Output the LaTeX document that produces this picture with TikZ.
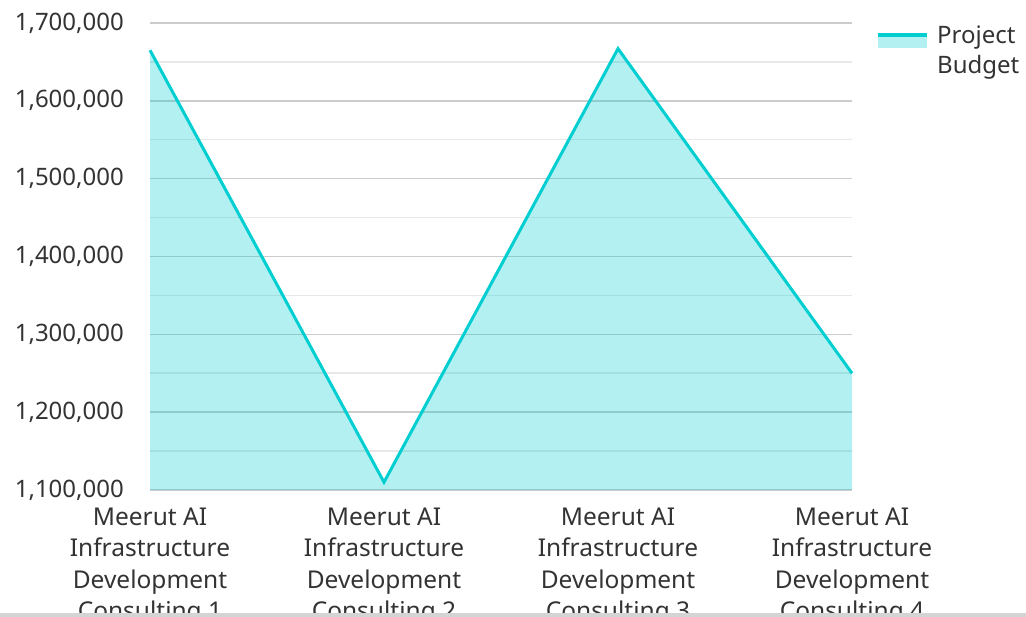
\documentclass[tikz,border=0pt]{standalone}
\usepackage{fontspec}
\setmainfont{Noto Sans}
\usetikzlibrary{positioning}
\definecolor{budgetline}{RGB}{0,206,209}
\definecolor{majorgrid}{RGB}{204,204,204}
\definecolor{minorgrid}{RGB}{232,232,232}
\definecolor{labeltext}{RGB}{51,51,51}
\definecolor{bottomrule}{RGB}{212,212,212}
\tikzset{
  ticklabel/.style={anchor=east, inner sep=0pt, text=labeltext, font=\fontsize{24}{28}\selectfont},
  catlabel/.style={anchor=north, inner sep=0pt, align=center, text=labeltext, font=\fontsize{24.5}{31.5}\selectfont},
  legendlabel/.style={anchor=north west, inner sep=0pt, align=left, text=labeltext, font=\fontsize{24}{30}\selectfont},
  gridline/.style={line width=1.5pt}
}

\begin{document}
\begin{tikzpicture}[x=1pt,y=-1pt]
    \useasboundingbox (0,0) rectangle (1026,617);
    % grid
    \foreach \k in {1,...,6} {
        \pgfmathsetmacro\py{23+(6.5-\k)/6*467}
        \draw[gridline, minorgrid] (150,\py) -- (852,\py);
    }
    \foreach \k in {1,...,7} {
        \pgfmathsetmacro\py{23+(7-\k)/6*467}
        \draw[gridline, majorgrid] (150,\py) -- (852,\py);
        \node[ticklabel] (ylab-\k) at (124,\py) {1,\k00,000};
    }
    % data
    \foreach \i/\v in {1/1665,2/1110,3/1667,4/1250}
        \coordinate (p\i) at ({150+(\i-1)*234},{23+(1700-\v)/600*467});
    \coordinate (base) at (150,490);
    \fill[budgetline, fill opacity=.3] (p1) -- (p2) -- (p3) -- (p4) |- (base) -- cycle;
    \draw[budgetline, line width=3pt] (p1) -- (p2) -- (p3) -- (p4);
    % categories
    \begin{scope}
        \clip (0,0) rectangle (1026,612);
        \foreach \i in {1,...,4}
            \node[catlabel] (cat-\i) at ({150+(\i-1)*234},507.5) {Meerut AI\\Infrastructure\\Development\\Consulting \i};
    \end{scope}
    \fill[bottomrule] (0,613) rectangle (1026,617);
    % legend
    \coordinate (key-a) at (878,35);
    \coordinate (key-b) at (927,35);
    \fill[budgetline, fill opacity=.3] (key-a) rectangle ++(49,13);
    \draw[budgetline, line width=4pt] (key-a) -- (key-b);
    \node[legendlabel] (legend) at (937,26) {Project\\Budget};
\end{tikzpicture}
\end{document}
